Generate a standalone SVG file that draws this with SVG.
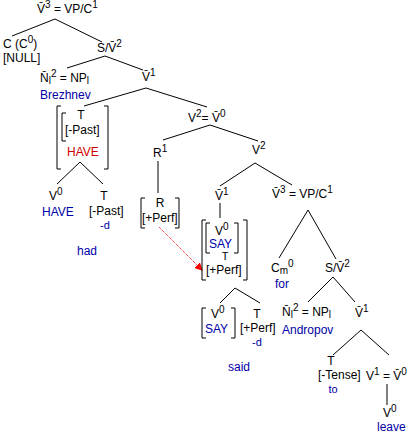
<svg xmlns="http://www.w3.org/2000/svg" width="408" height="436" viewBox="0 0 408 436">
<style>
text{font-family:"Liberation Sans",Arial,sans-serif;font-size:12px;fill:#000}
.b{fill:#0000a8}
.r{fill:#d00000}
.m{text-anchor:middle}
.s{font-size:10px}
.k{font-size:11px}
.ln{stroke:#000;stroke-width:1;fill:none}
.br{stroke:#000;stroke-width:1;fill:none}
</style>
<defs>
<marker id="ah" markerWidth="8" markerHeight="8" refX="7" refY="4" orient="auto" markerUnits="userSpaceOnUse">
<path d="M0,0 L8,4 L0,8 z" fill="#f00"/>
</marker>
</defs>
<rect width="408" height="436" fill="#fff"/>
<g id="connectors">
<path class="ln" d="M12,36 L55,19 L102,42"/>
<path class="ln" d="M67,68 L105,56 L143,70"/>
<path class="ln" d="M84,106 L146,88 L207,107"/>
<path class="ln" d="M163,140 L210,125 L258,141"/>
<path class="ln" d="M158,161 L158,193"/>
<path class="ln" d="M220,186 L255,163 L292,185"/>
<path class="ln" d="M220,203 L220,218"/>
<path class="ln" d="M57,184 L80,162 L103,184"/>
<path class="ln" d="M220,303 L235,288 L260,303"/>
<path class="ln" d="M279,258 L308,210 L336,259"/>
<path class="ln" d="M308,302 L333,277 L355,302"/>
<path class="ln" d="M333,355 L361,330 L389,355"/>
<path class="ln" d="M387,384 L387,405"/>
<path d="M159,227 L202,270" stroke="#f00" stroke-width="1" stroke-dasharray="1,1" fill="none" marker-end="url(#ah)"/>
</g>
<g id="n-top">
<text x="37" y="13">V̄<tspan class="s" dy="-5">3</tspan><tspan dy="5"> = VP/C</tspan><tspan class="s" dy="-5">1</tspan></text>
</g>
<g id="n-c">
<text x="3" y="48">C (C<tspan class="s" dy="-5">0</tspan><tspan dy="5">)</tspan></text>
<text x="3" y="62">[NULL]</text>
</g>
<g id="n-s1">
<text x="97" y="52">S/V̄<tspan class="s" dy="-5">2</tspan></text>
</g>
<g id="n-np1">
<text x="40" y="82">N̄<tspan class="s" dy="2">l</tspan><tspan class="s" dy="-7">2</tspan><tspan dy="5"> = NP</tspan><tspan class="s" dy="2">l</tspan></text>
<text class="b" x="40" y="99">Brezhnev</text>
</g>
<g id="n-vbar1a">
<text x="142" y="81">V̄<tspan class="s" dy="-5">1</tspan></text>
</g>
<g id="n-have">
<path class="br" d="M61,106 L57,106 L57,169 L61,169"/>
<path class="br" d="M104,106 L108,106 L108,169 L104,169"/>
<path class="br" d="M66,113 L62,113 L62,141 L66,141"/>
<text class="m" x="81" y="119">T</text>
<text x="65" y="134">[-Past]</text>
<text class="r" x="67" y="156">HAVE</text>
</g>
<g id="n-v0have">
<text x="49" y="200">V<tspan class="s" dy="-5">0</tspan></text>
<text class="b" x="42" y="216">HAVE</text>
</g>
<g id="n-tpast">
<text class="m" x="104" y="200">T</text>
<text x="89" y="215">[-Past]</text>
<text class="b m k" x="105" y="229">-d</text>
</g>
<g id="n-had">
<text class="b" x="77" y="255">had</text>
</g>
<g id="n-v2a">
<text x="188" y="122">V<tspan class="s" dy="-5">2</tspan><tspan dy="5">= V̄</tspan><tspan class="s" dy="-5">0</tspan></text>
</g>
<g id="n-r1">
<text x="153" y="157">R<tspan class="s" dy="-5">1</tspan></text>
</g>
<g id="n-r">
<path class="br" d="M145,198 L141,198 L141,228 L145,228"/>
<path class="br" d="M175,198 L179,198 L179,228 L175,228"/>
<text class="m" x="160" y="207">R</text>
<text x="142" y="222">[+Perf]</text>
</g>
<g id="n-v2b">
<text x="252" y="154">V<tspan class="s" dy="-5">2</tspan></text>
</g>
<g id="n-vbar1b">
<text x="215" y="200">V̄<tspan class="s" dy="-5">1</tspan></text>
</g>
<g id="n-say">
<path class="br" d="M206,220 L202,220 L202,280 L206,280"/>
<path class="br" d="M243,220 L247,220 L247,280 L243,280"/>
<path class="br" d="M210,223 L206,223 L206,253 L210,253"/>
<path class="br" d="M234,223 L238,223 L238,253 L234,253"/>
<text x="215" y="235">V<tspan class="s" dy="-5">0</tspan></text>
<text class="b" x="209" y="248">SAY</text>
<text class="m k" x="225" y="260">T</text>
<text x="206" y="274">[+Perf]</text>
</g>
<g id="n-v0say">
<path class="br" d="M206,308 L202,308 L202,338 L206,338"/>
<path class="br" d="M231,308 L235,308 L235,338 L231,338"/>
<text x="211" y="318">V<tspan class="s" dy="-5">0</tspan></text>
<text class="b" x="205" y="333">SAY</text>
</g>
<g id="n-tperf">
<text class="m" x="257" y="318">T</text>
<text x="240" y="332">[+Perf]</text>
<text class="b m k" x="257" y="346">-d</text>
</g>
<g id="n-said">
<text class="b" x="228" y="371">said</text>
</g>
<g id="n-vbar3b">
<text x="272" y="198">V̄<tspan class="s" dy="-5">3</tspan><tspan dy="5"> = VP/C</tspan><tspan class="s" dy="-5">1</tspan></text>
</g>
<g id="n-cm">
<text x="271" y="272">C<tspan class="s" dy="2">m</tspan><tspan class="s" dy="-7">0</tspan></text>
<text class="b" x="275" y="288">for</text>
</g>
<g id="n-s2">
<text x="325" y="272">S/V̄<tspan class="s" dy="-5">2</tspan></text>
</g>
<g id="n-np2">
<text x="282" y="316">N̄<tspan class="s" dy="2">l</tspan><tspan class="s" dy="-7">2</tspan><tspan dy="5"> = NP</tspan><tspan class="s" dy="2">l</tspan></text>
<text class="b" x="282" y="334">Andropov</text>
</g>
<g id="n-vbar1c">
<text x="355" y="317">V̄<tspan class="s" dy="-5">1</tspan></text>
</g>
<g id="n-tense">
<text class="m" x="331" y="365">T</text>
<text x="318" y="379">[-Tense]</text>
<text class="b m k" x="333" y="393">to</text>
</g>
<g id="n-v1">
<text x="366" y="380">V<tspan class="s" dy="-5">1</tspan><tspan dy="5"> = V̄</tspan><tspan class="s" dy="-5">0</tspan></text>
</g>
<g id="n-leave">
<text x="383" y="417">V<tspan class="s" dy="-5">0</tspan></text>
<text class="b" x="377" y="431">leave</text>
</g>
</svg>
